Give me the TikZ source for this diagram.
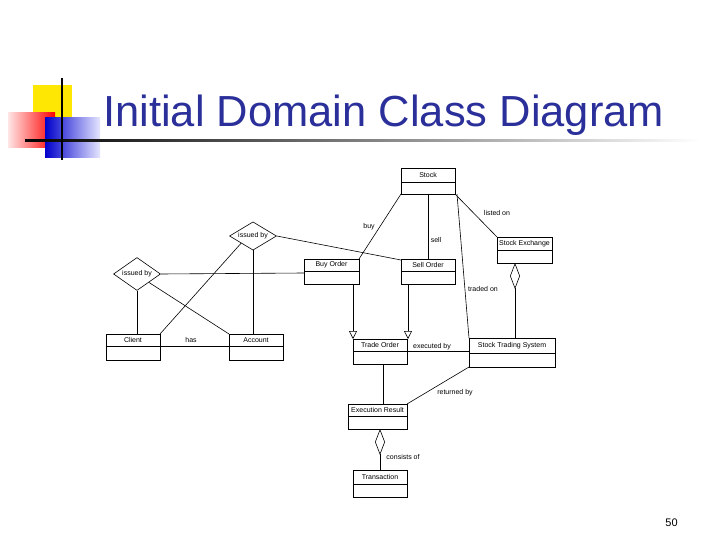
\documentclass[tikz,border=0pt]{standalone}
\usepackage{fontspec}
\setmainfont{Liberation Sans}
\usetikzlibrary{shapes.geometric,arrows.meta}
\definecolor{ttl}{HTML}{2B2F9A}
\begin{document}
\begin{tikzpicture}[x=1pt,y=-1pt,line width=0.6pt,
  lbl/.style={font=\fontsize{7}{8}\selectfont,inner sep=0pt},
  dia/.style={diamond,draw,aspect=1.6,inner sep=1pt,font=\fontsize{7}{8}\selectfont},
  gen/.style={-{Triangle[open,length=8pt,width=8pt]}},
  agg/.style={{Diamond[open,length=26pt,width=10pt]}-}]
\useasboundingbox (0,0) rectangle (720,540);
% decoration
\fill[yellow!90!orange] (33,85) rectangle (72,120);
\shade[left color=red!10,right color=red] (8,113) rectangle (55,148);
\shade[left color=blue!80!black,right color=blue!10] (45,118) rectangle (100,158);
\shade[left color=black,right color=white] (25,140) rectangle (700,142);
\draw[line width=1.2pt] (62,78) -- (62,160);
\node[anchor=base west,text=ttl,font=\fontsize{43.5}{44}\selectfont,inner sep=0pt] (title) at (103,127) {Initial Domain Class Diagram};
\node[anchor=base east,font=\fontsize{11}{11}\selectfont,inner sep=0pt] (pg) at (678,526) {50};
% classes
\newcommand{\cls}[6]{%
  \draw (#2,#3) rectangle (#4,#5); \draw (#2,#6) -- (#4,#6);
  \coordinate (#1-nw) at (#2,#3); \coordinate (#1-se) at (#4,#5);}
\cls{stk}{401}{168}{455}{194}{182}
\node[lbl] (stock) at (428,175) {Stock};
\cls{sx}{497}{237}{552}{263}{250}
\node[lbl] (sxl) at (524.5,243.5) {Stock Exchange};
\cls{bo}{304}{259}{359}{284}{271}
\node[lbl] (bol) at (331.5,265) {Buy Order};
\cls{so}{401}{259}{455}{284}{271}
\node[lbl] (sol) at (428,265) {Sell Order};
\cls{cl}{106}{334}{160}{360}{346}
\node[lbl] (cll) at (133,340) {Client};
\cls{ac}{229}{334}{283}{360}{346}
\node[lbl] (acl) at (256,340) {Account};
\cls{to}{353}{339}{407}{364}{351}
\node[lbl] (tol) at (380,345) {Trade Order};
\cls{sts}{469}{338}{555}{367}{353}
\node[lbl] (stsl) at (512,345.5) {Stock Trading System};
\cls{er}{348}{404}{407}{429}{416}
\node[lbl] (erl) at (377.5,410) {Execution Result};
\cls{tr}{353}{470}{407}{497}{484}
\node[lbl] (trl) at (380,477) {Transaction};
% diamonds
\node[dia,minimum width=47pt,minimum height=28pt] (d1) at (253,236) {issued by};
\node[dia,minimum width=47pt,minimum height=33pt] (d2) at (137,274) {issued by};
% connectors
\coordinate (a1) at (401,194); \coordinate (a2) at (359,259);
\draw (a1) -- (a2);
\coordinate (b1) at (428,194); \coordinate (b2) at (428,259);
\draw (b1) -- (b2);
\coordinate (c1) at (455,194); \coordinate (c2) at (497,237);
\draw (c1) -- (c2);
\coordinate (e1) at (457,194); \coordinate (e2) at (469,338);
\draw (e1) -- (e2);
\coordinate (f1) at (515,263); \coordinate (f2) at (515,338);
\draw[agg] (f1) -- (f2);
\coordinate (g1) at (353,284); \coordinate (g2) at (353,339);
\draw[gen] (g1) -- (g2);
\coordinate (h1) at (408,284); \coordinate (h2) at (408,339);
\draw[gen] (h1) -- (h2);
\coordinate (i2) at (401,260);
\draw (d1.east) -- (i2);
\coordinate (j2) at (160,334);
\draw (d1.south west) -- (j2);
\coordinate (k2) at (253,334);
\draw (d1.south) -- (k2);
\coordinate (l2) at (304,273);
\draw (d2.east) -- (l2);
\coordinate (m2) at (137,334);
\draw (d2.south) -- (m2);
\coordinate (n2) at (229,334);
\draw (d2.south east) -- (n2);
\coordinate (o1) at (160,346); \coordinate (o2) at (229,346);
\draw (o1) -- (o2);
\coordinate (p1) at (407,351); \coordinate (p2) at (469,351);
\draw (p1) -- (p2);
\coordinate (q1) at (383,364); \coordinate (q2) at (383,404);
\draw (q1) -- (q2);
\coordinate (r1) at (469,367); \coordinate (r2) at (407,404);
\draw (r1) -- (r2);
\coordinate (s1) at (380,429); \coordinate (s2) at (380,470);
\draw[agg] (s1) -- (s2);
% labels
\node[lbl] (t1) at (369,227) {buy};
\node[lbl] (t2) at (436,240) {sell};
\node[lbl] (t3) at (497,213) {listed on};
\node[lbl] (t4) at (483,289) {traded on};
\node[lbl] (t5) at (191,340) {has};
\node[lbl] (t6) at (432,347) {executed by};
\node[lbl] (t7) at (455,393) {returned by};
\node[lbl] (t8) at (403,457) {consists of};
\end{tikzpicture}
\end{document}
